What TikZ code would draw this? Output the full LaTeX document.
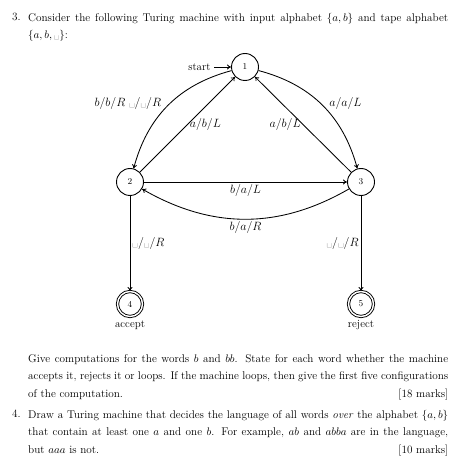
\documentclass[tikz,border=0pt]{standalone}
\usepackage{amsmath}
\usepackage{xcolor}
\usepackage{tikz}
\usetikzlibrary{arrows.meta}
\newcommand{\blk}{\text{\textvisiblespace}}

\begin{document}
\begin{tikzpicture}[x=1pt,y=1pt,>={To[length=4pt,width=5pt]},
  state/.style={circle,draw,line width=0.9pt,minimum size=27pt,inner sep=0pt,font=\fontsize{9}{10}\selectfont},
  final/.style={state,double,double distance=1.4pt,minimum size=25pt},
  trans/.style={->,line width=0.85pt},
  lbl/.style={font=\fontsize{11.5}{13}\selectfont,inner sep=2pt},
  para/.style={anchor=north west,text width=420pt,align=justify,inner sep=0pt,font=\fontsize{11.2}{17.5}\selectfont},
  num/.style={anchor=north west,inner sep=0pt,font=\fontsize{11.2}{17.5}\selectfont}]
  \useasboundingbox (0,0) rectangle (474,-465);
  % question 3
  \node[num] (n3) at (12,-13) {3.};
  \node[para] (p3) at (28,-13) {Consider the following Turing machine with input alphabet $\{a,b\}$ and tape alphabet\linebreak $\{a,b,\blk\}$:};
  % states
  \node[state] (q1) at (245,-67) {1};
  \node[state] (q2) at (130,-182) {2};
  \node[state] (q3) at (361,-182) {3};
  \node[final] (q4) at (130,-304) {4};
  \node[final] (q5) at (361,-304) {5};
  \node[font=\fontsize{11}{13}\selectfont,anchor=east] (start) at (214,-67) {start};
  \node[font=\fontsize{11}{13}\selectfont,anchor=north] (acc) at (q4.south) {accept};
  \node[font=\fontsize{11}{13}\selectfont,anchor=north] (rej) at (q5.south) {reject};
  % transitions
  \draw[trans] (start) -- (q1);
  \draw[trans] (q1) to[bend right=30] node[lbl,pos=.56,anchor=south east,inner sep=1pt] {$b/b/R$ $\blk/\blk/R$} (q2);
  \draw[trans] (q2) -- node[lbl,right] {$a/b/L$} (q1);
  \draw[trans] (q3) -- node[lbl,left] {$a/b/L$} (q1);
  \draw[trans] (q1) to[bend left=30] node[lbl,pos=.56,anchor=south west,inner sep=1pt] {$a/a/L$} (q3);
  \draw[trans] (q2) -- node[lbl,below] {$b/a/L$} (q3);
  \draw[trans] (q3) to[bend left=30] node[lbl,below] {$b/a/R$} (q2);
  \draw[trans] (q2) -- node[lbl,right] {$\blk/\blk/R$} (q4);
  \draw[trans] (q3) -- node[lbl,left] {$\blk/\blk/R$} (q5);
  % text below
  \node[para] (p3b) at (28,-354) {\parfillskip=0pt Give computations for the words $b$ and $bb$. State for each word whether the machine\linebreak accepts it, rejects it or loops. If the machine loops, then give the first five configurations\linebreak of the computation.\hfill[18 marks]};
  \node[num] (n4) at (12,-410) {4.};
  \node[para] (p4) at (28,-410) {\parfillskip=0pt Draw a Turing machine that decides the language of all words \emph{over} the alphabet $\{a,b\}$\linebreak that contain at least one $a$ and one $b$. For example, $ab$ and $abba$ are in the language,\linebreak but $aaa$ is not.\hfill[10 marks]};
\end{tikzpicture}
\end{document}
